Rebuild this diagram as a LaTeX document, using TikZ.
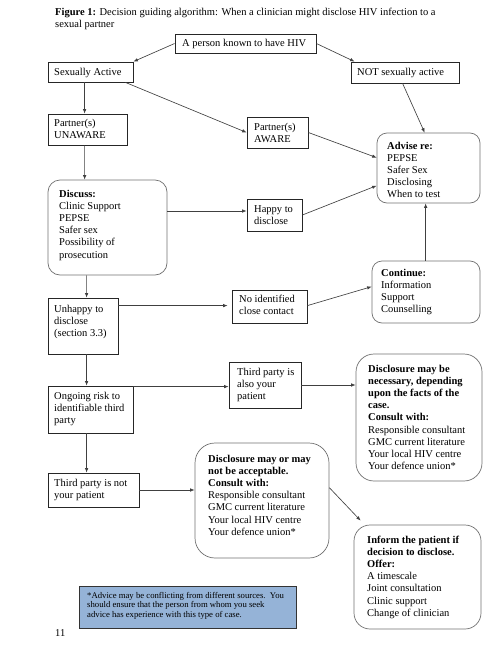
\documentclass[tikz,border=0pt]{standalone}
\usepackage{fontspec}
\setmainfont{Liberation Serif}
\usetikzlibrary{fit,arrows.meta}
\newcommand{\boxtext}[1]{\begin{tabular}[t]{@{}l@{}}#1\end{tabular}}
\definecolor{notecol}{HTML}{95B3D7}
\definecolor{rndcol}{HTML}{707070}
\definecolor{arrcol}{HTML}{404040}
\tikzset{
  sqbox/.style={draw=black!85, line width=0.8pt, inner sep=0pt},
  rndbox/.style={draw=rndcol, line width=0.7pt, inner sep=0pt, rounded corners=#1},
  notebox/.style={draw=black!80, line width=0.8pt, fill=notecol, inner sep=0pt},
  txt/.style={anchor=base west, inner sep=0pt, font=\fontsize{10.5}{12.2}\selectfont},
  smalltxt/.style={anchor=base west, inner sep=0pt, font=\fontsize{8.7}{9.6}\selectfont},
  arr/.style={draw=arrcol, line width=0.65pt, -{Latex[length=4.5pt,width=3.5pt]}}
}
\begin{document}
\begin{tikzpicture}[x=1pt,y=-1pt]
\useasboundingbox (0,0) rectangle (500,648);
% title
\node[txt] (title) at (55,15.5) {\boxtext{\textbf{Figure 1:} Decision guiding algorithm: When a clinician might disclose HIV infection to a\\ sexual partner}};
% boxes
\node[sqbox, fit={(175,34) (316,53)}] (top) {};
\node[sqbox, fit={(48,62) (133,82)}] (sa) {};
\node[sqbox, fit={(351,62) (459,83)}] (ns) {};
\node[sqbox, fit={(48,114) (127,145)}] (un) {};
\node[sqbox, fit={(247,117) (308,148)}] (aw) {};
\node[rndbox=10pt, fit={(377,133) (480,203)}] (ad) {};
\node[rndbox=12pt, fit={(48,180) (167,275)}] (di) {};
\node[sqbox, fit={(247,199) (302,231)}] (hp) {};
\node[rndbox=10pt, fit={(372,261) (480,323)}] (co) {};
\node[sqbox, fit={(48,298) (118,354)}] (uh) {};
\node[sqbox, fit={(232,290) (307,323)}] (ni) {};
\node[sqbox, fit={(48,386) (133,433)}] (og) {};
\node[sqbox, fit={(229,362) (301,408)}] (ta) {};
\node[rndbox=18pt, fit={(356,354) (482,481)}] (dn) {};
\node[sqbox, fit={(48,473) (139,507)}] (tn) {};
\node[rndbox=20pt, fit={(195,443) (329,558)}] (dm) {};
\node[rndbox=16pt, fit={(354,525) (481,629)}] (inf) {};
\node[notebox, fit={(79,586) (296,628)}] (fn) {};
% texts
\node[txt] (topT) at (182,46) {A person known to have HIV};
\node[txt] (saT) at (54,75) {Sexually Active};
\node[txt] (nsT) at (357,75) {NOT sexually active};
\node[txt] (unT) at (54,126) {\boxtext{Partner(s)\\ UNAWARE}};
\node[txt] (awT) at (254,130) {\boxtext{Partner(s)\\ AWARE}};
\node[txt] (adT) at (387,149) {\boxtext{\textbf{Advise re:}\\ PEPSE\\ Safer Sex\\ Disclosing\\ When to test}};
\node[txt] (diT) at (59,197) {\boxtext{\textbf{Discuss:}\\ Clinic Support\\ PEPSE\\ Safer sex\\ Possibility of\\ prosecution}};
\node[txt] (hpT) at (254,212) {\boxtext{Happy to\\ disclose}};
\node[txt] (coT) at (381,276) {\boxtext{\textbf{Continue:}\\ Information\\ Support\\ Counselling}};
\node[txt] (uhT) at (54,312) {\boxtext{Unhappy to\\ disclose\\ (section 3.3)}};
\node[txt] (niT) at (239,302) {\boxtext{No identified\\ close contact}};
\node[txt] (ogT) at (54,399) {\boxtext{Ongoing risk to\\ identifiable third\\ party}};
\node[txt] (taT) at (237,375) {\boxtext{Third party is\\ also your\\ patient}};
\node[txt] (dnT) at (368,372) {\boxtext{\textbf{Disclosure may be}\\ \textbf{necessary, depending}\\ \textbf{upon the facts of the}\\ \textbf{case.}\\ \textbf{Consult with:}\\ Responsible consultant\\ GMC current literature\\ Your local HIV centre\\ Your defence union*}};
\node[txt] (tnT) at (54,486) {\boxtext{Third party is not\\ your patient}};
\node[txt] (dmT) at (208,462) {\boxtext{\textbf{Disclosure may or may}\\ \textbf{not be acceptable.}\\ \textbf{Consult with:}\\ Responsible consultant\\ GMC current literature\\ Your local HIV centre\\ Your defence union*}};
\node[txt] (infT) at (367,543) {\boxtext{\textbf{Inform the patient if}\\ \textbf{decision to disclose.}\\ \textbf{Offer:}\\ A timescale\\ Joint consultation\\ Clinic support\\ Change of clinician}};
\node[smalltxt] (fnT) at (87,598) {\boxtext{*Advice may be conflicting from different sources.\ \ You\\ should ensure that the person from whom you seek\\ advice has experience with this type of case.}};
\node[txt] (page) at (55,636) {11};
% helper coordinates
\coordinate (dh) at ([yshift=4pt]hp.west);
\coordinate (c1) at ([xshift=54pt]co.north west);
\coordinate (u1) at ([yshift=-8pt]uh.north east);
\coordinate (o1) at ([yshift=-1pt]og.north east);
% connectors
\draw[arr] (top.west) -- (sa.north east);
\draw[arr] (top.east) -- ([xshift=4pt]ns.north west);
\draw[arr] ([xshift=37pt]sa.south west) -- ([xshift=37pt]un.north west);
\draw[arr] ([xshift=-8pt]sa.south east) -- (aw.west);
\draw[arr] ([xshift=52pt]ns.south west) -- ([xshift=48pt]ad.north west);
\draw[arr] (aw.east) -- ([yshift=-25pt]ad.north west);
\draw[arr] ([xshift=37pt]un.south west) -- ([xshift=37pt]di.north west);
\draw[arr] (dh -| di.east) -- (dh);
\draw[arr] (hp.east) -- ([yshift=-53pt]ad.north west);
\draw[arr] (c1) -- (c1 |- ad.south);
\draw[arr] ([xshift=39pt]di.south west) -- ([xshift=39pt]uh.north west);
\draw[arr, shorten >=4pt] (u1) -- (u1 -| ni.west);
\draw[arr] ([yshift=-16pt]ni.north east) -- ([yshift=-26pt]co.north west);
\draw[arr] ([xshift=39pt]uh.south west) -- ([xshift=39pt]og.north west);
\draw[arr] (o1) -- (o1 -| ta.west);
\draw[arr] (ta.east) -- (ta.east -| dn.west);
\draw[arr] ([xshift=39pt]og.south west) -- ([xshift=39pt]tn.north west);
\draw[arr] (tn.east) -- (tn.east -| dm.west);
\draw[arr] ([yshift=-45pt]dm.north east) -- ([xshift=7pt,yshift=4pt]inf.north west);
\end{tikzpicture}
\end{document}
